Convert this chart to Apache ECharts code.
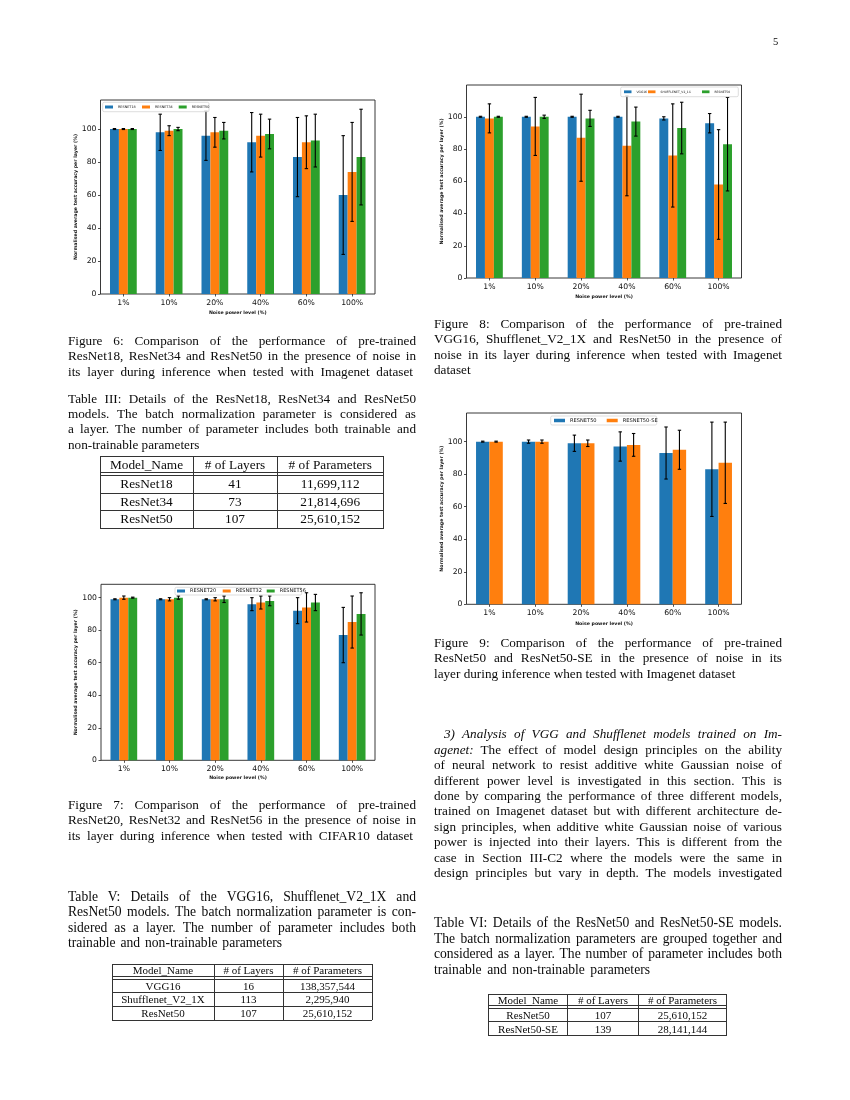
<!DOCTYPE html>
<html>
<head>
<meta charset="utf-8">
<script src="https://cdn.jsdelivr.net/npm/echarts@6/dist/echarts.min.js"></script>
<style>
  html, body { margin: 0; padding: 0; background: #fff; }
  #page { position: relative; width: 850px; height: 1100px; overflow: hidden; background: #fff; }
  .chart { position: absolute; left: 0; top: 0; width: 850px; height: 1100px; }
  .ln { position: absolute; white-space: nowrap; font-family: "Liberation Serif", "Times New Roman", serif; font-size: 13.2px; line-height: 16px; color: #0a0a0a; }
  .cell { position: absolute; display: flex; align-items: center; justify-content: center; font-family: "Liberation Serif", serif; color: #0a0a0a; white-space: nowrap; }
  .hl { position: absolute; height: 0; border-top: 1px solid #333; }
  .vl { position: absolute; width: 0; border-left: 1px solid #333; }
</style>
</head>
<body>
<div id="page">
  <div id="c1" class="chart"></div>
  <div id="c2" class="chart"></div>
  <div id="c3" class="chart"></div>
  <div id="c4" class="chart"></div>
</div>
<script>
// ---------------- DATA ----------------
const noiseLevels = ['1%', '10%', '20%', '40%', '60%', '100%'];
const yTickValues = [0, 20, 40, 60, 80, 100];

// Figure 6 (Imagenet): ResNet18 / ResNet34 / ResNet50
const fig6Names = ['RESNET18', 'RESNET34', 'RESNET50'];
const fig6Resnet18 = [100, 98, 96, 92, 83, 60];
const fig6Resnet18Err = [0.3, 11, 15, 18, 24, 36];
const fig6Resnet34 = [100, 99, 98, 96, 92, 74];
const fig6Resnet34Err = [0.3, 3, 9, 13, 16, 30];
const fig6Resnet50 = [100, 100, 99, 97, 93, 83];
const fig6Resnet50Err = [0.3, 1, 5, 9, 16, 29];

// Figure 8 (Imagenet): VGG16 / Shufflenet_V2_1X / ResNet50
const fig8Names = ['VGG16', 'SHUFFLENET_V2_1X', 'RESNET50'];
const fig8Vgg16 = [100, 100, 100, 100, 99, 96];
const fig8Vgg16Err = [0.3, 0.3, 0.3, 0.3, 1, 6];
const fig8Shufflenet = [99, 94, 87, 82, 76, 58];
const fig8ShufflenetErr = [9, 18, 27, 31, 32, 34];
const fig8Resnet50 = [100, 100, 99, 97, 93, 83];
const fig8Resnet50Err = [0.3, 1, 5, 9, 16, 29];

// Figure 9 (Imagenet): ResNet50 / ResNet50-SE
const fig9Names = ['RESNET50', 'RESNET50-SE'];
const fig9Resnet50 = [100, 100, 99, 97, 93, 83];
const fig9Resnet50Err = [0.3, 1, 5, 9, 16, 29];
const fig9Resnet50SE = [100, 100, 99, 98, 95, 87];
const fig9Resnet50SEErr = [0.3, 1, 2, 7, 12, 25];

// Figure 7 (CIFAR10): ResNet20 / ResNet32 / ResNet56
const fig7Names = ['RESNET20', 'RESNET32', 'RESNET56'];
const fig7Resnet20 = [99, 99, 99, 96, 92, 77];
const fig7Resnet20Err = [0.3, 0.3, 0.3, 4, 8, 17];
const fig7Resnet32 = [100, 99, 99, 97, 94, 85];
const fig7Resnet32Err = [1, 1, 1, 4, 9, 16];
const fig7Resnet56 = [100, 100, 99, 98, 97, 90];
const fig7Resnet56Err = [0.3, 1, 2, 3, 5, 13];

// Tables
const tableHeader = ['Model_Name', '# of Layers', '# of Parameters'];
const table3Rows = [['ResNet18', '41', '11,699,112'], ['ResNet34', '73', '21,814,696'], ['ResNet50', '107', '25,610,152']];
const table5Rows = [['VGG16', '16', '138,357,544'], ['Shufflenet_V2_1X', '113', '2,295,940'], ['ResNet50', '107', '25,610,152']];
const table6Rows = [['ResNet50', '107', '25,610,152'], ['ResNet50-SE', '139', '28,141,144']];

const xTitle = 'Noise power level (%)';
const yTitle = 'Normalised average test accuracy per layer (%)';
const C_BLUE = '#1f77b4', C_ORANGE = '#ff7f0e', C_GREEN = '#2ca02c';

// ---------------- CHARTS ----------------
function buildOption(cfg) {
  const n = cfg.series.length;
  const series = [];
  cfg.series.forEach((s) => {
    series.push({
      type: 'bar', name: s.name, data: s.mean, barWidth: (cfg.barFrac * 100) + '%', barGap: '0%',
      itemStyle: { color: s.color }, z: 2, silent: true
    });
  });
  cfg.series.forEach((s, idx) => {
    const off = cfg.barFrac * (idx - (n - 1) / 2);
    series.push({
      type: 'custom', name: 'err' + idx, z: 5, silent: true,
      data: s.mean.map((v, i) => [i, v, s.err[i]]),
      encode: { x: 0, y: 1 },
      renderItem: function (params, api) {
        const i = api.value(0), v = api.value(1), e = api.value(2);
        const band = api.size([1, 0])[0];
        const p = api.coord([i, v]);
        const x = p[0] + off * band;
        const yt = api.coord([i, v + e])[1];
        const yb = api.coord([i, v - e])[1];
        const cw = 1.7;
        const st = { stroke: '#000', lineWidth: 1.1 };
        return { type: 'group', children: [
          { type: 'line', shape: { x1: x, y1: yt, x2: x, y2: yb }, style: st },
          { type: 'line', shape: { x1: x - cw, y1: yt, x2: x + cw, y2: yt }, style: st },
          { type: 'line', shape: { x1: x - cw, y1: yb, x2: x + cw, y2: yb }, style: st }
        ] };
      }
    });
  });
  const legends = cfg.legendItems.map(li => ({
    data: [li.name], left: li.x, top: cfg.legendCy - cfg.legendH / 2, padding: 0, z: 12,
    itemWidth: cfg.legendIW, itemHeight: cfg.legendIH, icon: 'rect', selectedMode: false,
    textStyle: { fontSize: cfg.legendFont, fontFamily: 'DejaVu Sans', color: '#111', lineHeight: cfg.legendH }
  }));
  const lb = cfg.legendBox;
  return {
    animation: false,
    grid: { left: cfg.grid[0], top: cfg.grid[1], width: cfg.grid[2], height: cfg.grid[3], show: true, borderColor: '#222', borderWidth: 0.9, backgroundColor: 'transparent' },
    legend: legends,
    graphic: [{ type: 'rect', shape: { x: lb[0], y: lb[1], width: lb[2], height: lb[3], r: 1.5 }, style: { fill: 'rgba(255,255,255,0.85)', stroke: '#cfcfcf', lineWidth: 0.7 }, z: 8, silent: true }],
    xAxis: {
      type: 'category', data: noiseLevels,
      axisLine: { show: false },
      axisTick: { show: true, alignWithLabel: true, length: 2.5, lineStyle: { color: '#222', width: 0.8 } },
      axisLabel: { fontSize: 7.7, fontFamily: 'DejaVu Sans', color: '#111', margin: 5 },
      name: xTitle, nameLocation: 'middle', nameGap: cfg.xNameGap,
      nameTextStyle: { fontSize: 4.7, fontWeight: 'bold', fontFamily: 'DejaVu Sans', color: '#111' }
    },
    yAxis: {
      type: 'value', min: 0, max: cfg.ymax, interval: 20,
      axisLine: { show: false }, splitLine: { show: false },
      axisTick: { show: true, length: 2.5, lineStyle: { color: '#222', width: 0.8 }, customValues: yTickValues },
      axisLabel: { fontSize: 7.7, fontFamily: 'DejaVu Sans', color: '#111', margin: 4, customValues: yTickValues },
      name: yTitle, nameLocation: 'middle', nameGap: cfg.yNameGap, nameRotate: 90,
      nameTextStyle: { fontSize: 4.7, fontWeight: 'bold', fontFamily: 'DejaVu Sans', color: '#111' }
    },
    series: series
  };
}

const chartCfgs = [
  { el: 'c1', grid: [100.5, 100, 274.5, 194], ymax: 117.6, barFrac: 0.195, xNameGap: 16, yNameGap: 21.5,
    series: [
      { name: fig6Names[0], color: C_BLUE, mean: fig6Resnet18, err: fig6Resnet18Err },
      { name: fig6Names[1], color: C_ORANGE, mean: fig6Resnet34, err: fig6Resnet34Err },
      { name: fig6Names[2], color: C_GREEN, mean: fig6Resnet50, err: fig6Resnet50Err }],
    legendItems: [{ name: fig6Names[0], x: 105 }, { name: fig6Names[1], x: 142 }, { name: fig6Names[2], x: 178.7 }],
    legendCy: 107, legendH: 4, legendIW: 8, legendIH: 3, legendFont: 3.4, legendBox: [102.7, 102.3, 106.3, 9.4] },
  { el: 'c2', grid: [466.5, 85, 275, 193], ymax: 119.7, barFrac: 0.195, xNameGap: 16.3, yNameGap: 22,
    series: [
      { name: fig8Names[0], color: C_BLUE, mean: fig8Vgg16, err: fig8Vgg16Err },
      { name: fig8Names[1], color: C_ORANGE, mean: fig8Shufflenet, err: fig8ShufflenetErr },
      { name: fig8Names[2], color: C_GREEN, mean: fig8Resnet50, err: fig8Resnet50Err }],
    legendItems: [{ name: fig8Names[0], x: 624 }, { name: fig8Names[1], x: 648 }, { name: fig8Names[2], x: 702 }],
    legendCy: 91.8, legendH: 3.6, legendIW: 7.5, legendIH: 2.8, legendFont: 3, legendBox: [620.7, 87, 117.6, 9.7] },
  { el: 'c3', grid: [466.5, 413, 275, 191.3], ymax: 117.6, barFrac: 0.292, xNameGap: 16.6, yNameGap: 21.5,
    series: [
      { name: fig9Names[0], color: C_BLUE, mean: fig9Resnet50, err: fig9Resnet50Err },
      { name: fig9Names[1], color: C_ORANGE, mean: fig9Resnet50SE, err: fig9Resnet50SEErr }],
    legendItems: [{ name: fig9Names[0], x: 554 }, { name: fig9Names[1], x: 606.7 }],
    legendCy: 420.5, legendH: 6, legendIW: 11, legendIH: 3.5, legendFont: 5.1, legendBox: [550.7, 416, 106, 9] },
  { el: 'c4', grid: [101, 584.3, 274, 176], ymax: 108.2, barFrac: 0.195, xNameGap: 14.6, yNameGap: 22,
    series: [
      { name: fig7Names[0], color: C_BLUE, mean: fig7Resnet20, err: fig7Resnet20Err },
      { name: fig7Names[1], color: C_ORANGE, mean: fig7Resnet32, err: fig7Resnet32Err },
      { name: fig7Names[2], color: C_GREEN, mean: fig7Resnet56, err: fig7Resnet56Err }],
    legendItems: [{ name: fig7Names[0], x: 177 }, { name: fig7Names[1], x: 222.7 }, { name: fig7Names[2], x: 266.7 }],
    legendCy: 591, legendH: 6, legendIW: 8, legendIH: 3, legendFont: 5, legendBox: [175, 587.3, 126.7, 7.7] }
];

chartCfgs.forEach(cfg => {
  const ch = echarts.init(document.getElementById(cfg.el), null, { renderer: 'canvas', width: 850, height: 1100 });
  ch.setOption(buildOption(cfg));
});

// ---------------- TEXT ----------------
const page = document.getElementById('page');
const LH = 15.4;
// [html, targetWidth or null, indent]
const textBlocks = [
  { x: 68, y0: 341, fs: 13.2, lines: [
    ['Figure 6: Comparison of the performance of pre-trained', 348],
    ['ResNet18, ResNet34 and ResNet50 in the presence of noise in', 348],
    ['its layer during inference when tested with Imagenet dataset', 345]] },
  { x: 68, y0: 398.5, fs: 13.2, lines: [
    ['Table III: Details of the ResNet18, ResNet34 and ResNet50', 348],
    ['models. The batch normalization parameter is considered as', 348],
    ['a layer. The number of parameter includes both trainable and', 348],
    ['non-trainable parameters', null]] },
  { x: 68, y0: 805, fs: 13.2, lines: [
    ['Figure 7: Comparison of the performance of pre-trained', 348],
    ['ResNet20, ResNet32 and ResNet56 in the presence of noise in', 348],
    ['its layer during inference when tested with CIFAR10 dataset', 345]] },
  { x: 68, y0: 897, fs: 13.6, lines: [
    ['Table V: Details of the VGG16, Shufflenet_V2_1X and', 348],
    ['ResNet50 models. The batch normalization parameter is con-', 348],
    ['sidered as a layer. The number of parameter includes both', 348],
    ['trainable and non-trainable parameters', 214]] },
  { x: 434, y0: 324, fs: 13.2, lines: [
    ['Figure 8: Comparison of the performance of pre-trained', 348],
    ['VGG16, Shufflenet_V2_1X and ResNet50 in the presence of', 348],
    ['noise in its layer during inference when tested with Imagenet', 348],
    ['dataset', null]] },
  { x: 434, y0: 642.7, fs: 13.2, lines: [
    ['Figure 9: Comparison of the performance of pre-trained', 348],
    ['ResNet50 and ResNet50-SE in the presence of noise in its', 348],
    ['layer during inference when tested with Imagenet dataset', null]] },
  { x: 434, y0: 734.3, fs: 13.2, lines: [
    ['<i>3) Analysis of VGG and Shufflenet models trained on Im-</i>', 338, 10],
    ['<i>agenet:</i> The effect of model design principles on the ability', 348],
    ['of neural network to resist additive white Gaussian noise of', 348],
    ['different power level is investigated in this section. This is', 348],
    ['done by comparing the performance of three different models,', 348],
    ['trained on Imagenet dataset but with different architecture de-', 348],
    ['sign principles, when additive white Gaussian noise of various', 348],
    ['power is injected into their layers. This is different from the', 348],
    ['case in Section III-C2 where the models were the same in', 348],
    ['design principles but vary in depth. The models investigated', 348]] },
  { x: 434, y0: 923.3, fs: 13.6, lines: [
    ['Table VI: Details of the ResNet50 and ResNet50-SE models.', 348],
    ['The batch normalization parameters are grouped together and', 348],
    ['considered as a layer. The number of parameter includes both', 348],
    ['trainable and non-trainable parameters', 216]] }
];

function addLine(html, x, yc, target, fs) {
  const d = document.createElement('div');
  d.className = 'ln';
  d.style.left = x + 'px';
  d.style.top = (yc - 8) + 'px';
  d.style.fontSize = fs + 'px';
  const sp = document.createElement('span');
  sp.innerHTML = html;
  d.appendChild(sp);
  page.appendChild(d);
  if (target) {
    const w = sp.getBoundingClientRect().width;
    const nSpaces = (sp.textContent.match(/ /g) || []).length;
    if (nSpaces > 0) d.style.wordSpacing = ((target - w) / nSpaces) + 'px';
  }
}
textBlocks.forEach(b => {
  b.lines.forEach((l, k) => addLine(l[0], b.x + (l[2] || 0), b.y0 + k * LH, l[1], b.fs));
});

// page number
(function () {
  const d = document.createElement('div');
  d.className = 'ln';
  d.style.left = '773px'; d.style.top = '34px'; d.style.fontSize = '10.5px';
  d.textContent = '5';
  page.appendChild(d);
})();

// ---------------- TABLES ----------------
function drawTable(colX, rowY, textRowIdx, header, rows, fs) {
  const x0 = colX[0], x1 = colX[colX.length - 1], y0 = rowY[0], y1 = rowY[rowY.length - 1];
  rowY.forEach(y => {
    const h = document.createElement('div'); h.className = 'hl';
    h.style.left = x0 + 'px'; h.style.top = (y - 0.5) + 'px'; h.style.width = (x1 - x0) + 'px';
    page.appendChild(h);
  });
  colX.forEach(x => {
    const v = document.createElement('div'); v.className = 'vl';
    v.style.left = (x - 0.5) + 'px'; v.style.top = y0 + 'px'; v.style.height = (y1 - y0) + 'px';
    page.appendChild(v);
  });
  const all = [header].concat(rows);
  all.forEach((r, ri) => {
    const k = textRowIdx[ri];
    r.forEach((t, ci) => {
      const c = document.createElement('div'); c.className = 'cell';
      c.style.left = colX[ci] + 'px'; c.style.width = (colX[ci + 1] - colX[ci]) + 'px';
      c.style.top = rowY[k] + 'px'; c.style.height = (rowY[k + 1] - rowY[k]) + 'px';
      c.style.fontSize = fs + 'px';
      c.textContent = t;
      page.appendChild(c);
    });
  });
}
drawTable([100, 193, 277, 383.5], [456.5, 472.5, 475.5, 493.3, 510.7, 528.3], [0, 2, 3, 4], tableHeader, table3Rows, 13.3);
drawTable([112, 214, 283, 372], [964, 976.5, 979.3, 992.7, 1006, 1020], [0, 2, 3, 4], tableHeader, table5Rows, 11);
drawTable([488.3, 567.7, 638.3, 726.7], [994, 1005.5, 1008.3, 1021.5, 1035.5], [0, 2, 3], tableHeader, table6Rows, 11);
</script>
</body>
</html>
